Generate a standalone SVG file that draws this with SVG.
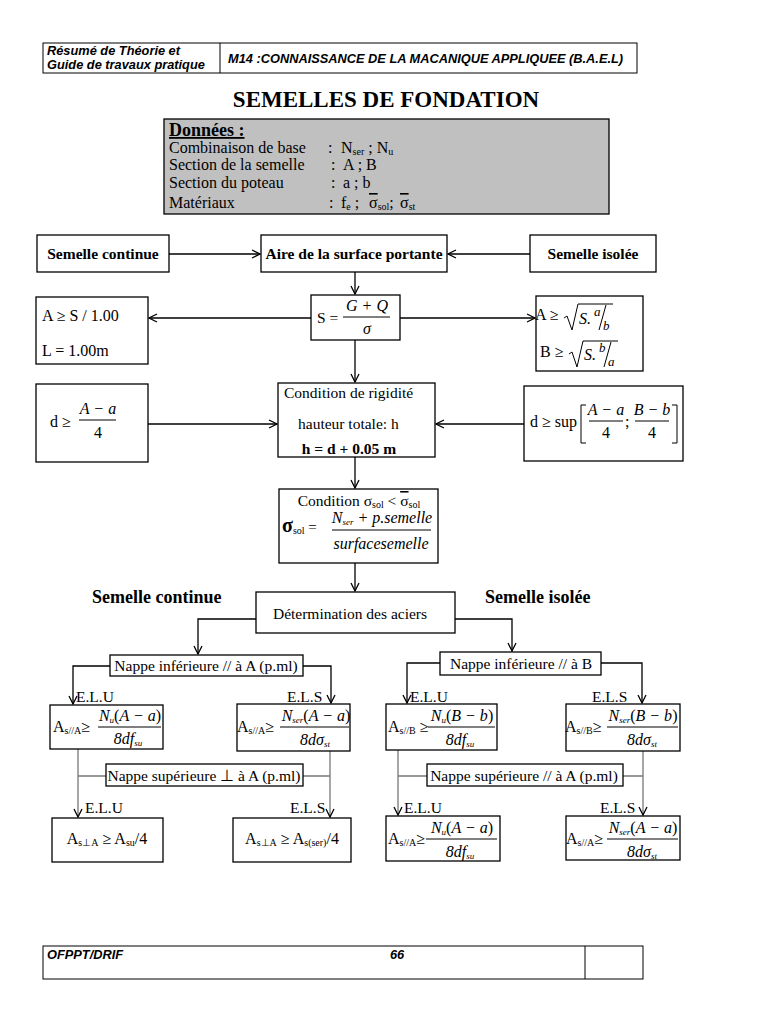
<svg xmlns="http://www.w3.org/2000/svg" width="768" height="1024" viewBox="0 0 768 1024">
<style>
.box{fill:#fff;stroke:#000;stroke-width:1.3}
.hdr{font-family:"Liberation Sans",Arial,sans-serif;font-weight:bold;font-style:italic;font-size:12.8px}
.t{font-family:"Liberation Serif","Times New Roman",serif;font-size:15.5px}
.tb{font-family:"Liberation Serif","Times New Roman",serif;font-size:15.5px;font-weight:bold}
.d{font-family:"Liberation Serif","Times New Roman",serif;font-size:16px}
.m{font-family:"Liberation Serif","Times New Roman",serif;font-size:16px;font-style:italic}
.sm{font-family:"Liberation Serif","Times New Roman",serif;font-size:13px;font-style:italic}
.sub{font-size:10px}
.c{stroke:#000;stroke-width:1.3;fill:none}
.g{stroke:#777;stroke-width:1.3;fill:none}
.fl{stroke:#000;stroke-width:1}
</style>
<defs>
<marker id="arr" viewBox="0 0 10 10" refX="9" refY="5" markerWidth="10" markerHeight="10" orient="auto" markerUnits="userSpaceOnUse">
<path d="M1,1 L9,5 L1,9" fill="none" stroke="#000" stroke-width="1.3"/>
</marker>
</defs>
<rect width="768" height="1024" fill="#fff"/>

<g id="header">
<rect x="43" y="43" width="594" height="30" fill="none" stroke="#000" stroke-width="1"/>
<line x1="220" y1="43" x2="220" y2="73" stroke="#000" stroke-width="1"/>
<text class="hdr" x="47" y="55">Résumé de Théorie et</text>
<text class="hdr" x="47" y="69">Guide de travaux pratique</text>
<text class="hdr" x="228" y="63">M14 :CONNAISSANCE DE LA MACANIQUE APPLIQUEE (B.A.E.L)</text>
</g>

<text id="title" x="386" y="107" text-anchor="middle" font-family="Liberation Serif, Times New Roman, serif" font-weight="bold" font-size="23">SEMELLES DE FONDATION</text>

<g id="donnees">
<rect x="164" y="119" width="445" height="95" fill="#c0c0c0" stroke="#000" stroke-width="1.3"/>
<text x="169" y="136" font-family="Liberation Serif, Times New Roman, serif" font-weight="bold" font-size="18" text-decoration="underline">Données :</text>
<text class="d" x="169" y="153">Combinaison de base</text>
<text class="d" y="153"><tspan x="328">:</tspan><tspan x="341">N</tspan><tspan class="sub" dy="2">ser</tspan><tspan dy="-2"> ; N</tspan><tspan class="sub" dy="2">u</tspan></text>
<text class="d" x="169" y="170">Section de la semelle</text>
<text class="d" y="170"><tspan x="331">:</tspan><tspan x="343">A ; B</tspan></text>
<text class="d" x="169" y="188">Section du poteau</text>
<text class="d" y="188"><tspan x="331">:</tspan><tspan x="343">a ; b</tspan></text>
<text class="d" x="169" y="208">Matériaux</text>
<text class="d" y="208"><tspan x="329">:</tspan><tspan x="341">f</tspan><tspan class="sub" dy="2">e</tspan><tspan dy="-2"> ;</tspan><tspan x="369" text-decoration="overline">σ</tspan><tspan class="sub" dy="2">sol</tspan><tspan dy="-2">;</tspan><tspan x="400" text-decoration="overline">σ</tspan><tspan class="sub" dy="2">st</tspan></text>
</g>

<g id="connectors">
<path class="c" d="M169,254 H260" marker-end="url(#arr)"/>
<path class="c" d="M530,254 H448" marker-end="url(#arr)"/>
<path class="c" d="M355,272 V294" marker-end="url(#arr)"/>
<path class="c" d="M311,318 H149" marker-end="url(#arr)"/>
<path class="c" d="M400,318 H535" marker-end="url(#arr)"/>
<path class="c" d="M355,340 V382" marker-end="url(#arr)"/>
<path class="c" d="M148,424 H277" marker-end="url(#arr)"/>
<path class="c" d="M524,424 H436" marker-end="url(#arr)"/>
<path class="c" d="M355,457 V488" marker-end="url(#arr)"/>
<path class="c" d="M355,563 V591" marker-end="url(#arr)"/>
<path class="c" d="M256,619 H198 V654" marker-end="url(#arr)"/>
<path class="c" d="M455,619 H512 V651" marker-end="url(#arr)"/>
<path class="c" d="M110,666 H73 V704" marker-end="url(#arr)"/>
<path class="c" d="M303,666 H331 V703" marker-end="url(#arr)"/>
<path class="c" d="M440,663 H407 V703" marker-end="url(#arr)"/>
<path class="c" d="M601,663 H642 V703" marker-end="url(#arr)"/>
<path class="g" d="M78,749 V817" marker-end="url(#arr)"/>
<path class="g" d="M330,751 V817" marker-end="url(#arr)"/>
<path class="g" d="M78,776 H106 M303,776 H330"/>
<path class="g" d="M398,750 V815" marker-end="url(#arr)"/>
<path class="g" d="M643,751 V815" marker-end="url(#arr)"/>
<path class="g" d="M398,776 H427 M623,776 H643"/>
</g>

<g id="semelle-continue">
<rect class="box" x="37" y="235" width="132" height="37"/>
<text class="tb" x="103" y="259" text-anchor="middle">Semelle continue</text>
</g>
<g id="aire">
<rect class="box" x="261" y="235" width="186" height="37"/>
<text class="tb" x="354" y="259" text-anchor="middle">Aire de la surface portante</text>
</g>
<g id="semelle-isolee">
<rect class="box" x="530" y="235" width="126" height="37"/>
<text class="tb" x="593" y="259" text-anchor="middle">Semelle isolée</text>
</g>

<g id="s-box">
<rect class="box" x="311" y="295" width="89" height="45"/>
<text class="t" x="317" y="323">S =</text>
<text class="m" x="367" y="311" text-anchor="middle">G + Q</text>
<line class="fl" x1="343" y1="317" x2="390" y2="317"/>
<text class="m" x="367" y="334" text-anchor="middle">σ</text>
</g>

<g id="continue-dims">
<rect class="box" x="36" y="297" width="112" height="67"/>
<text class="d" x="42" y="321">A ≥ S / 1.00</text>
<text class="d" x="42" y="356">L = 1.00m</text>
</g>

<g id="isolee-dims">
<rect class="box" x="536" y="296" width="107" height="75"/>
<text class="d" x="535" y="320">A ≥</text>
<path class="fl" fill="none" d="M564,318 L567,316 L572,330 L578,304 H613"/>
<text class="m" x="579" y="324">S.</text>
<text class="sm" x="594" y="316">a</text>
<line class="fl" x1="606" y1="305" x2="599" y2="330"/>
<text class="sm" x="603" y="330">b</text>
<text class="d" x="540" y="357">B ≥</text>
<path class="fl" fill="none" d="M569,354 L572,352 L577,367 L583,341 H618"/>
<text class="m" x="584" y="360">S.</text>
<text class="sm" x="599" y="352">b</text>
<line class="fl" x1="611" y1="342" x2="604" y2="367"/>
<text class="sm" x="608" y="366">a</text>
</g>

<g id="d-continue">
<rect class="box" x="36" y="384" width="112" height="78"/>
<text class="d" x="50" y="427">d ≥</text>
<text class="m" x="98" y="414" text-anchor="middle">A − a</text>
<line class="fl" x1="79" y1="420" x2="116" y2="420"/>
<text class="d" x="98" y="438" text-anchor="middle">4</text>
</g>

<g id="rigidite">
<rect class="box" x="278" y="383" width="157" height="74"/>
<text class="t" x="284" y="398">Condition de rigidité</text>
<text class="t" x="298" y="429">hauteur totale: h</text>
<text class="tb" x="349" y="454" text-anchor="middle">h = d + 0.05 m</text>
</g>

<g id="d-isolee">
<rect class="box" x="524" y="386" width="159" height="75"/>
<text class="d" x="530" y="427">d ≥ sup</text>
<path class="fl" fill="none" d="M586,405 H581 V443 H586"/>
<text class="m" x="606" y="415" text-anchor="middle">A − a</text>
<line class="fl" x1="589" y1="421" x2="623" y2="421"/>
<text class="d" x="606" y="438" text-anchor="middle">4</text>
<text class="d" x="625" y="427">;</text>
<text class="m" x="652" y="415" text-anchor="middle">B − b</text>
<line class="fl" x1="635" y1="421" x2="669" y2="421"/>
<text class="d" x="652" y="438" text-anchor="middle">4</text>
<path class="fl" fill="none" d="M672,405 H677 V443 H672"/>
</g>

<g id="sigma-box">
<rect class="box" x="279" y="489" width="159" height="74"/>
<text class="t" x="359" y="506" text-anchor="middle">Condition σ<tspan class="sub" dy="2">sol</tspan><tspan dy="-2"> &lt; </tspan><tspan text-decoration="overline">σ</tspan><tspan class="sub" dy="2">sol</tspan></text>
<text x="282" y="532" style="font-family:'Liberation Serif','Times New Roman',serif;font-size:20px;font-weight:bold">σ<tspan dy="2" style="font-size:10px;font-weight:normal">sol</tspan><tspan dy="-2" style="font-size:15px;font-weight:normal"> =</tspan></text>
<text class="m" x="382" y="523" text-anchor="middle">N<tspan font-size="9" dy="2">ser</tspan><tspan dy="-2"> + p.semelle</tspan></text>
<line class="fl" x1="332" y1="530" x2="431" y2="530"/>
<text class="m" x="381" y="549" text-anchor="middle">surfacesemelle</text>
</g>

<text x="92" y="603" font-family="Liberation Serif, Times New Roman, serif" font-weight="bold" font-size="18">Semelle continue</text>
<text x="485" y="603" font-family="Liberation Serif, Times New Roman, serif" font-weight="bold" font-size="18">Semelle isolée</text>

<g id="determination">
<rect class="box" x="256" y="592" width="199" height="41"/>
<text class="t" x="350" y="619" text-anchor="middle">Détermination des aciers</text>
</g>

<g id="nappe-inf-A">
<rect class="box" x="110" y="655" width="193" height="21"/>
<text class="t" x="206" y="671" text-anchor="middle">Nappe inférieure // à A (p.ml)</text>
</g>
<g id="nappe-inf-B">
<rect class="box" x="440" y="652" width="161" height="23"/>
<text class="t" x="521" y="669" text-anchor="middle">Nappe inférieure // à B</text>
</g>

<text class="t" x="76" y="702">E.L.U</text>
<text class="t" x="287" y="702">E.L.S</text>
<text class="t" x="410" y="702">E.L.U</text>
<text class="t" x="592" y="702">E.L.S</text>

<g id="cont-elu">
<rect class="box" x="50" y="705" width="113" height="44"/>
<text class="d" x="53" y="732">A<tspan class="sub" dy="2">s//A</tspan><tspan dy="-2">≥</tspan></text>
<text class="m" x="130" y="721" text-anchor="middle">N<tspan font-size="9" dy="2">u</tspan><tspan dy="-2" font-style="normal">(</tspan>A − a<tspan font-style="normal">)</tspan></text>
<line class="fl" x1="98" y1="727" x2="161" y2="727"/>
<text class="m" x="128" y="744" text-anchor="middle">8df<tspan font-size="9" dy="2">su</tspan></text>
</g>
<g id="cont-els">
<rect class="box" x="237" y="704" width="113" height="47"/>
<text class="d" x="237" y="732">A<tspan class="sub" dy="2">s//A</tspan><tspan dy="-2">≥</tspan></text>
<text class="m" x="316" y="721" text-anchor="middle">N<tspan font-size="9" dy="2">ser</tspan><tspan dy="-2" font-style="normal">(</tspan>A − a<tspan font-style="normal">)</tspan></text>
<line class="fl" x1="280" y1="727" x2="349" y2="727"/>
<text class="m" x="315" y="745" text-anchor="middle">8dσ<tspan font-size="9" dy="2">st</tspan></text>
</g>
<g id="iso-elu">
<rect class="box" x="386" y="704" width="111" height="46"/>
<text class="d" x="388" y="732">A<tspan class="sub" dy="2">s//B</tspan><tspan dy="-2"> ≥</tspan></text>
<text class="m" x="462" y="721" text-anchor="middle">N<tspan font-size="9" dy="2">u</tspan><tspan dy="-2" font-style="normal">(</tspan>B − b<tspan font-style="normal">)</tspan></text>
<line class="fl" x1="428" y1="727" x2="495" y2="727"/>
<text class="m" x="460" y="745" text-anchor="middle">8df<tspan font-size="9" dy="2">su</tspan></text>
</g>
<g id="iso-els">
<rect class="box" x="566" y="704" width="114" height="47"/>
<text class="d" x="565" y="732">A<tspan class="sub" dy="2">s//B</tspan><tspan dy="-2">≥</tspan></text>
<text class="m" x="643" y="721" text-anchor="middle">N<tspan font-size="9" dy="2">ser</tspan><tspan dy="-2" font-style="normal">(</tspan>B − b<tspan font-style="normal">)</tspan></text>
<line class="fl" x1="607" y1="727" x2="678" y2="727"/>
<text class="m" x="642" y="745" text-anchor="middle">8dσ<tspan font-size="9" dy="2">st</tspan></text>
</g>

<g id="nappe-sup-perp">
<rect class="box" x="106" y="764" width="197" height="22"/>
<text class="t" x="204" y="781" text-anchor="middle">Nappe supérieure ⊥ à A (p.ml)</text>
</g>
<g id="nappe-sup-par">
<rect class="box" x="427" y="764" width="196" height="22"/>
<text class="t" x="524" y="781" text-anchor="middle">Nappe supérieure // à A (p.ml)</text>
</g>

<text class="t" x="85" y="813">E.L.U</text>
<text class="t" x="290" y="813">E.L.S</text>
<text class="t" x="404" y="813">E.L.U</text>
<text class="t" x="600" y="813">E.L.S</text>

<g id="cont-sup-elu">
<rect class="box" x="52" y="818" width="111" height="44"/>
<text class="d" x="107" y="844" text-anchor="middle">A<tspan class="sub" dy="2">s⊥A</tspan><tspan dy="-2"> ≥ A</tspan><tspan class="sub" dy="2">su</tspan><tspan dy="-2">/4</tspan></text>
</g>
<g id="cont-sup-els">
<rect class="box" x="233" y="818" width="118" height="44"/>
<text class="d" x="292" y="844" text-anchor="middle">A<tspan class="sub" dy="2">s⊥A</tspan><tspan dy="-2"> ≥ A</tspan><tspan class="sub" dy="2">s(ser)</tspan><tspan dy="-2">/4</tspan></text>
</g>
<g id="iso-sup-elu">
<rect class="box" x="386" y="816" width="114" height="45"/>
<text class="d" x="388" y="844">A<tspan class="sub" dy="2">s//A</tspan><tspan dy="-2">≥</tspan></text>
<text class="m" x="462" y="833" text-anchor="middle">N<tspan font-size="9" dy="2">u</tspan><tspan dy="-2" font-style="normal">(</tspan>A − a<tspan font-style="normal">)</tspan></text>
<line class="fl" x1="426" y1="839" x2="497" y2="839"/>
<text class="m" x="460" y="857" text-anchor="middle">8df<tspan font-size="9" dy="2">su</tspan></text>
</g>
<g id="iso-sup-els">
<rect class="box" x="566" y="816" width="114" height="44"/>
<text class="d" x="566" y="844">A<tspan class="sub" dy="2">s//A</tspan><tspan dy="-2">≥</tspan></text>
<text class="m" x="643" y="833" text-anchor="middle">N<tspan font-size="9" dy="2">ser</tspan><tspan dy="-2" font-style="normal">(</tspan>A − a<tspan font-style="normal">)</tspan></text>
<line class="fl" x1="607" y1="839" x2="678" y2="839"/>
<text class="m" x="642" y="857" text-anchor="middle">8dσ<tspan font-size="9" dy="2">st</tspan></text>
</g>

<g id="footer">
<rect x="43" y="946" width="600" height="33" fill="none" stroke="#000" stroke-width="1"/>
<line x1="585" y1="946" x2="585" y2="979" stroke="#000" stroke-width="1"/>
<text class="hdr" x="47" y="959">OFPPT/DRIF</text>
<text class="hdr" x="390" y="959">66</text>
</g>
</svg>
